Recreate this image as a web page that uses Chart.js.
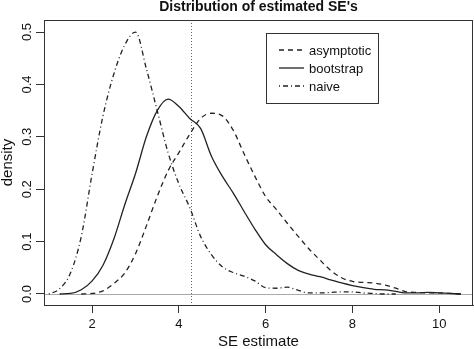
<!DOCTYPE html>
<html>
<head>
<meta charset="utf-8">
<script src="https://cdn.jsdelivr.net/npm/chart.js@4/dist/chart.umd.min.js"></script>
<style>
  html, body { margin: 0; padding: 0; background: #fff; }
  #wrap { width: 474px; height: 349px; }
</style>
</head>
<body>
<div id="wrap"><canvas id="grafico" width="474" height="349"></canvas></div>
<script>
// valores
var xGrid = [1, 1.25, 1.5, 1.75, 2, 2.25, 2.5, 2.75, 3, 3.25, 3.5, 3.75, 4, 4.25, 4.5, 4.75,
    5, 5.25, 5.5, 5.75, 6, 6.25, 6.5, 6.75, 7, 7.25, 7.5, 7.75, 8, 8.25, 8.5, 8.75,
    9, 9.25, 9.5, 9.75, 10, 10.25, 10.5];

var asymptotic = [null, null, null, 0, 0.001, 0.006, 0.02, 0.04, 0.077, 0.13, 0.186, 0.235, 0.27, 0.305, 0.335, 0.345,
    0.34, 0.313, 0.268, 0.225, 0.186, 0.161, 0.135, 0.11, 0.086, 0.065, 0.045, 0.031, 0.024, 0.022, 0.021, 0.017,
    0.011, 0.004, 0.003, 0.002, 0.002, 0.001, 0];

var bootstrap = [null, 0, 0.001, 0.008, 0.025, 0.055, 0.105, 0.17, 0.23, 0.3, 0.35, 0.372, 0.358, 0.335, 0.316, 0.263,
    0.225, 0.193, 0.158, 0.124, 0.094, 0.075, 0.058, 0.045, 0.038, 0.033, 0.027, 0.021, 0.016, 0.012, 0.009, 0.008,
    0.005, 0.002, 0.002, 0.003, 0.002, 0.001, 0];

var naive = [0, 0.01, 0.04, 0.11, 0.23, 0.34, 0.42, 0.475, 0.5, 0.43, 0.35, 0.27, 0.21, 0.165, 0.11, 0.075,
    0.052, 0.041, 0.034, 0.025, 0.012, 0.011, 0.013, 0.007, 0.002, 0.002, 0.003, 0.004, 0.004, 0.002, 0.001, 0,
    0, null, null, null, null, null, null];

var xTicks = [2, 4, 6, 8, 10];
var yTicks = [0, 0.1, 0.2, 0.3, 0.4, 0.5];
var xMin = 0.89, xMax = 10.78;
var yMin = -0.021, yMax = 0.523;
var lineaVertical = 4.27;   // linea punteada
var lineaHorizontal = 0;    // abline(h = 0)

var series = [
    { nombre: 'asymptotic', valores: asymptotic, dash: [5, 4] },
    { nombre: 'bootstrap', valores: bootstrap, dash: [] },
    { nombre: 'naive', valores: naive, dash: [1, 3, 5, 3] }
];

var fuente = '"Liberation Sans", Arial, Helvetica, sans-serif';
var negro = '#222';

function puntos(valores) {
    var res = [];
    for (var i = 0; i < xGrid.length; i++) {
        res.push({ x: xGrid[i], y: valores[i] });
    }
    return res;
}

// caja, lineas de referencia, titulo y leyenda al estilo de R
var extrasR = {
    id: 'extrasR',
    beforeDatasetsDraw: function (chart) {
        var ctx = chart.ctx;
        var xs = chart.scales.x, ys = chart.scales.y;
        ctx.save();
        ctx.strokeStyle = '#aaa';
        ctx.lineWidth = 1;
        var py = Math.round(ys.getPixelForValue(lineaHorizontal)) + 0.5;
        ctx.beginPath();
        ctx.moveTo(chart.chartArea.left, py);
        ctx.lineTo(chart.chartArea.right, py);
        ctx.stroke();

        ctx.strokeStyle = '#666';
        ctx.setLineDash([1, 2]);
        var px = Math.round(xs.getPixelForValue(lineaVertical)) + 0.5;
        ctx.beginPath();
        ctx.moveTo(px, chart.chartArea.top);
        ctx.lineTo(px, chart.chartArea.bottom);
        ctx.stroke();
        ctx.restore();
    },
    afterDraw: function (chart) {
        var ctx = chart.ctx;
        var a = chart.chartArea;
        ctx.save();
        ctx.strokeStyle = '#333';
        ctx.lineWidth = 1;
        ctx.strokeRect(a.left + 0.5, a.top + 0.5, a.right - a.left - 1, a.bottom - a.top);

        ctx.fillStyle = '#111';
        ctx.font = 'bold 14px ' + fuente;
        ctx.textAlign = 'center';
        ctx.textBaseline = 'middle';
        ctx.fillText("Distribution of estimated SE's", (a.left + a.right) / 2, 7);

        // leyenda
        ctx.strokeRect(266.5, 33.5, 112, 70);
        ctx.font = '13px ' + fuente;
        ctx.textAlign = 'left';
        for (var i = 0; i < series.length; i++) {
            var y = 50 + i * 18;
            ctx.strokeStyle = negro;
            ctx.lineWidth = 1.3;
            ctx.setLineDash(series[i].dash);
            ctx.beginPath();
            ctx.moveTo(279, y);
            ctx.lineTo(304, y);
            ctx.stroke();
            ctx.setLineDash([]);
            ctx.fillStyle = '#111';
            ctx.fillText(series[i].nombre, 309, y + 1);
        }
        ctx.restore();
    }
};

var datasets = [];
for (var i = 0; i < series.length; i++) {
    datasets.push({
        label: series[i].nombre,
        data: puntos(series[i].valores),
        borderColor: negro,
        borderWidth: 1.3,
        borderDash: series[i].dash,
        pointRadius: 0,
        fill: false,
        spanGaps: false,
        cubicInterpolationMode: 'monotone'
    });
}

var ctx = document.getElementById('grafico').getContext('2d');
var grafico = new Chart(ctx, {
    type: 'line',
    data: { datasets: datasets },
    options: {
        responsive: false,
        animation: false,
        layout: { padding: { top: 20, right: 1, left: 0, bottom: 0 } },
        plugins: {
            legend: { display: false },
            title: { display: false },
            tooltip: { enabled: false }
        },
        scales: {
            x: {
                type: 'linear',
                min: xMin,
                max: xMax,
                afterBuildTicks: function (scale) {
                    scale.ticks = xTicks.map(function (v) { return { value: v }; });
                },
                afterFit: function (scale) { scale.height = 44; },
                grid: { display: true, drawOnChartArea: false, drawTicks: true, tickLength: 8, color: '#333' },
                border: { display: true, color: '#333' },
                ticks: {
                    color: '#111', padding: 4, maxRotation: 0,
                    font: { family: fuente, size: 13 }
                },
                title: {
                    display: true, text: 'SE estimate', color: '#111',
                    font: { family: fuente, size: 15, lineHeight: 1 },
                    padding: { top: 0, bottom: 0 }
                }
            },
            y: {
                type: 'linear',
                min: yMin,
                max: yMax,
                afterBuildTicks: function (scale) {
                    scale.ticks = yTicks.map(function (v) { return { value: v }; });
                },
                afterFit: function (scale) { scale.width = 44; },
                grid: { display: true, drawOnChartArea: false, drawTicks: true, tickLength: 8, color: '#333' },
                border: { display: true, color: '#333' },
                ticks: {
                    color: '#111', padding: 0, minRotation: 90, maxRotation: 90, crossAlign: 'center',
                    font: { family: fuente, size: 13 },
                    callback: function (v) { return v.toFixed(1); }
                },
                title: {
                    display: true, text: 'density', color: '#111',
                    font: { family: fuente, size: 15, lineHeight: 1 },
                    padding: { top: 0, bottom: 0 }
                }
            }
        }
    },
    plugins: [extrasR]
});
</script>
</body>
</html>
